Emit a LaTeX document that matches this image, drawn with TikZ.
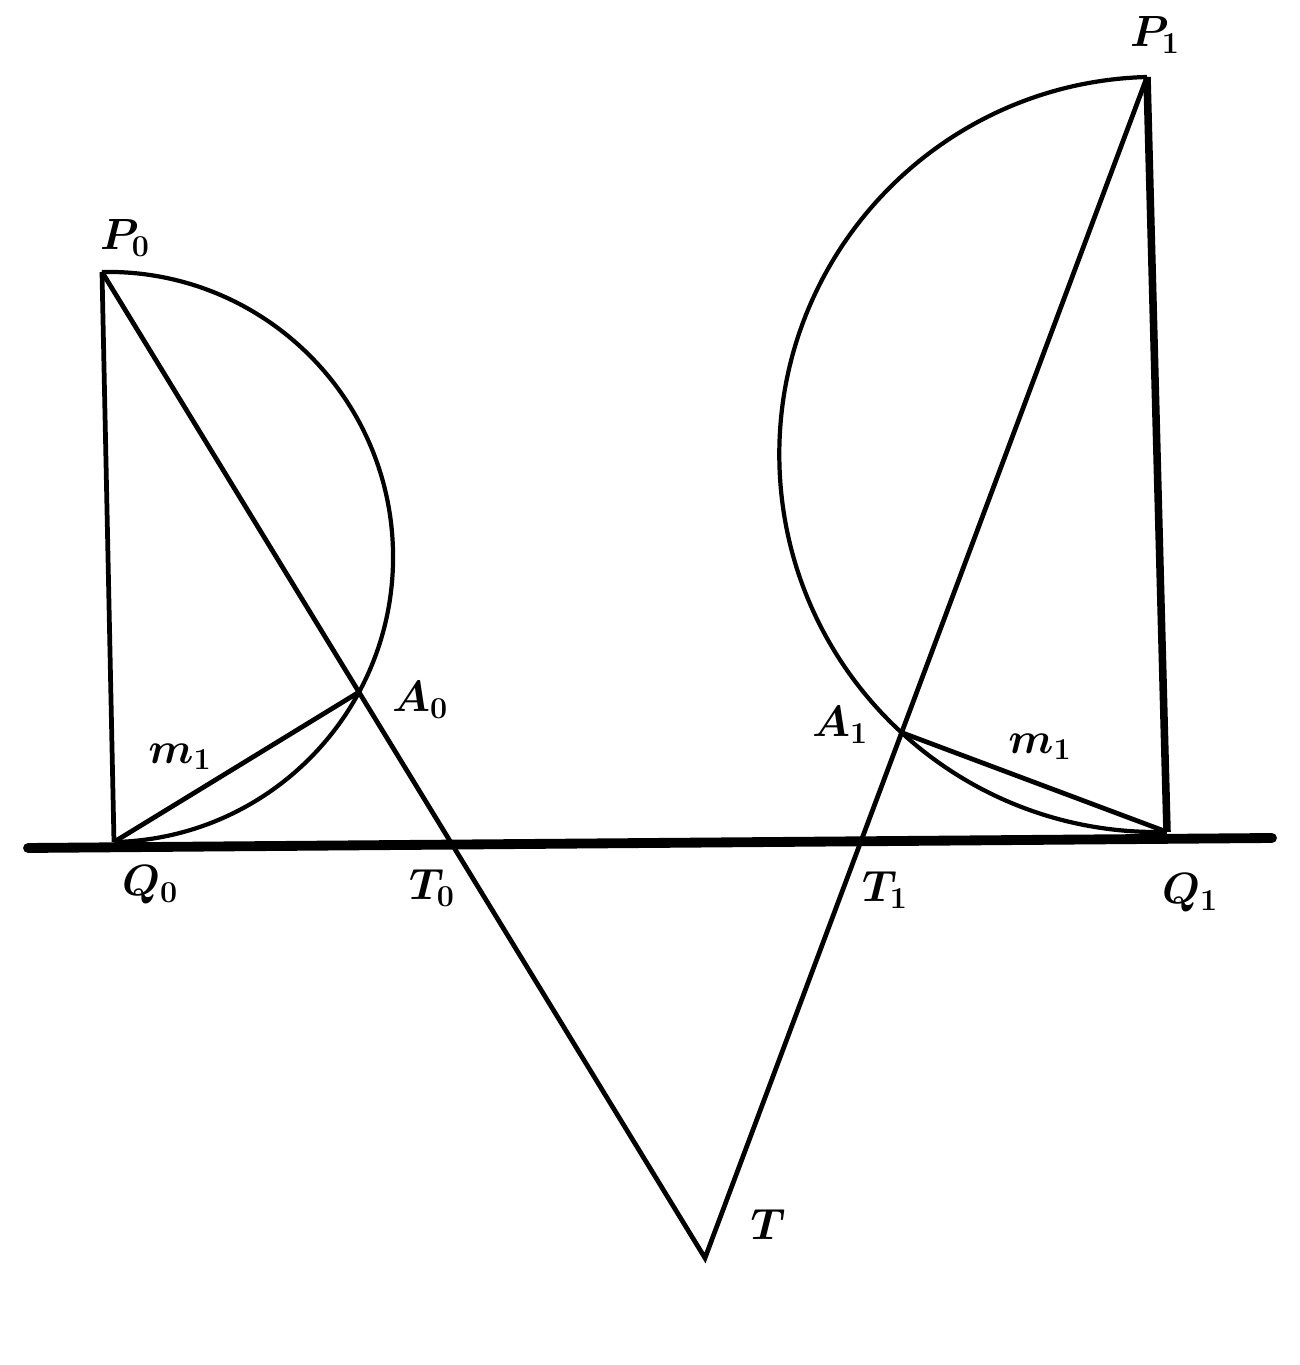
\documentclass[tikz,border=0pt]{standalone}
\usepackage{tikz}
\usetikzlibrary{calc}
\tikzstyle{lbl} = [font=\fontsize{24}{28}\selectfont\boldmath, inner sep=0pt]
\tikzstyle{line} = [draw, line width=2.7pt]
\tikzstyle{heavy} = [draw, line width=4.3pt]
\tikzstyle{ground} = [draw, line width=5.6pt, line cap=round]
\tikzstyle{arcline} = [draw, line width=2.4pt]

\begin{document}
\begin{tikzpicture}[x=0.02cm,y=0.02cm]
    \useasboundingbox (0,0) rectangle (1300,1365);
    % Place points
    \coordinate (P0) at (102,1093);
    \coordinate (Q0) at (114,523);
    \coordinate (P1) at (1147,1288);
    \coordinate (Q1) at (1167,533);
    \coordinate (T) at (705,107);
    \coordinate (gl) at (28,517);
    \coordinate (gr) at (1272,527);
    \coordinate (A0) at ($(P0)!(Q0)!(T)$);
    \coordinate (A1) at ($(P1)!(Q1)!(T)$);
    % Place labels
    \node[lbl] (lP0) at (125,1127) {$P_0$};
    \node[lbl] (lQ0) at (150,480) {$Q_0$};
    \node[lbl] (lA0) at (420,665) {$A_0$};
    \node[lbl] (lT0) at (432,477) {$T_0$};
    \node[lbl] (lm0) at (180,608) {$m_1$};
    \node[lbl] (lA1) at (840,640) {$A_1$};
    \node[lbl] (lm1) at (1040,618) {$m_1$};
    \node[lbl] (lT1) at (885,475) {$T_1$};
    \node[lbl] (lQ1) at (1190,472) {$Q_1$};
    \node[lbl] (lP1) at (1155,1330) {$P_1$};
    \node[lbl] (lT) at (768,140) {$T$};
    % Draw arcs
    \path [arcline] (P0) arc[start angle=91.2, end angle=-88.8, radius=285.1];
    \path [arcline] (P1) arc[start angle=91.5, end angle=271.5, radius=377.6];
    % Draw edges
    \path [ground] (gl) -- (gr);
    \path [line] (P0) -- (Q0);
    \path [heavy] (P1) -- (Q1);
    \path [line] (P0) -- (T) -- (P1);
    \path [line] (Q0) -- (A0);
    \path [line] (Q1) -- (A1);
\end{tikzpicture}
\end{document}
